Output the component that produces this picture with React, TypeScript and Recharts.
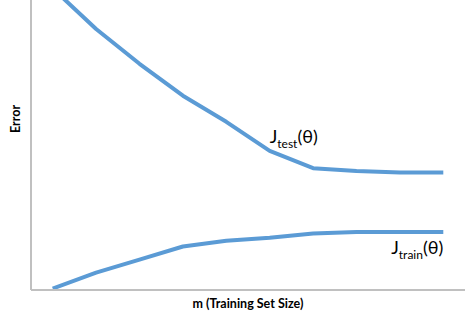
import { LineChart, Line, XAxis, YAxis } from "recharts";

// training set size (category positions along the x axis)
const sizes = [1, 2, 3, 4, 5, 6, 7, 8, 9, 10];
// error values (0..100 scale)
const testError = [104, 90, 78, 67, 58, 48, 42, 41, 40.5, 40.5];
const trainError = [0.5, 6, 10.5, 15, 17, 18, 19.5, 20, 20, 20];

const data = sizes.map((m, i) => ({
  m,
  test: testError[i],
  train: trainError[i],
}));

const blue = "#5b9bd5";
const font = "Lato, 'Open Sans', sans-serif";

// label for a single point of a line, sub = subscript text
function curveLabel(index: number, sub: string, where: "above" | "below") {
  return (props: any) => {
    if (props.index !== index) return null;
    const { x, y } = props;
    const above = where === "above";
    return (
      <text
        x={x}
        y={above ? y - 8 : y + 22}
        textAnchor={above ? "start" : "end"}
        fontFamily={font}
        fontSize={18}
        fill="#000"
      >
        J
        <tspan fontSize={12} dy={5}>
          {sub}
        </tspan>
        <tspan dy={-5}>(θ)</tspan>
      </text>
    );
  };
}

export default function App() {
  return (
    <div style={{ position: "absolute", left: 0, top: 0 }}>
      <LineChart
        width={476}
        height={323}
        data={data}
        margin={{ top: 0, right: 11, bottom: 0, left: 0 }}
      >
        <XAxis
          dataKey="m"
          type="number"
          domain={[0.5, 10.5]}
          height={33}
          tick={false}
          tickLine={false}
          axisLine={{ stroke: "#c0c0c0", strokeWidth: 2 }}
          label={{
            content: ({ viewBox }: any) => (
              <text
                x={viewBox.x + viewBox.width / 2}
                y={viewBox.y + 18}
                textAnchor="middle"
                fontFamily={font}
                fontWeight="bold"
                fontSize={12.5}
                fill="#000"
              >
                m (Training Set Size)
              </text>
            ),
          }}
        />
        <YAxis
          type="number"
          domain={[0, 100]}
          allowDataOverflow
          width={31}
          tick={false}
          tickLine={false}
          axisLine={{ stroke: "#c0c0c0", strokeWidth: 2 }}
          label={{
            content: ({ viewBox }: any) => {
              const cx = 20.5;
              const cy = viewBox.y + viewBox.height * 0.41;
              return (
                <text
                  x={cx}
                  y={cy}
                  transform={`rotate(-90 ${cx} ${cy})`}
                  textAnchor="middle"
                  fontFamily={font}
                  fontWeight="bold"
                  fontSize={12.5}
                  fill="#000"
                >
                  Error
                </text>
              );
            },
          }}
        />
        <Line
          type="linear"
          dataKey="test"
          stroke={blue}
          strokeWidth={4}
          strokeLinejoin="round"
          dot={false}
          isAnimationActive={false}
          label={curveLabel(5, "test", "above")}
        />
        <Line
          type="linear"
          dataKey="train"
          stroke={blue}
          strokeWidth={4}
          strokeLinejoin="round"
          dot={false}
          isAnimationActive={false}
          label={curveLabel(9, "train", "below")}
        />
      </LineChart>
    </div>
  );
}
